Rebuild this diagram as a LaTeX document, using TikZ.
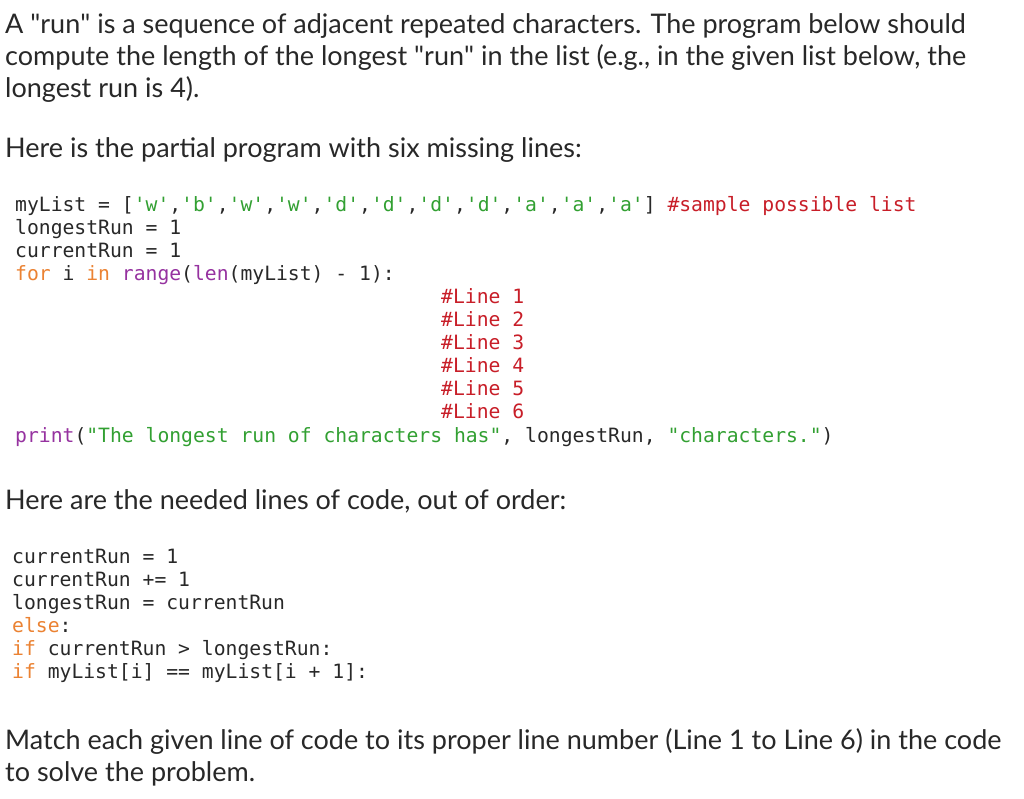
\documentclass[tikz,border=0pt]{standalone}
\usepackage{fontspec}
\setmainfont{Lato}
\newfontfamily\plainlato{Lato}
\newfontfamily\codefont{DejaVu Sans Mono}
\definecolor{txt}{RGB}{40,40,40}
\definecolor{cstr}{RGB}{50,160,50}
\definecolor{ckw}{RGB}{235,130,50}
\definecolor{cfn}{RGB}{150,50,160}
\definecolor{ccm}{RGB}{200,30,40}
\newcommand{\q}{\char"27}
\newcommand{\dq}{{\plainlato\char"22}}
\newcommand{\s}[1]{\textcolor{cstr}{\q#1\q}}
\newcommand{\kw}[1]{\textcolor{ckw}{#1}}
\newcommand{\fn}[1]{\textcolor{cfn}{#1}}
\newcommand{\cm}[1]{\textcolor{ccm}{#1}}
\tikzset{
 body/.style={anchor=base west,inner sep=0,text=txt,font=\fontsize{27}{30}\selectfont},
 code/.style={anchor=base west,inner sep=0,text=txt,font=\codefont\fontsize{19.7}{23}\selectfont}
}
\begin{document}
\begin{tikzpicture}[x=1pt,y=-1pt]
\useasboundingbox[fill=white] (0,0) rectangle (1024,798);
\node[body] (t1) at (5,33) {A \dq run\dq{} is a sequence of adjacent repeated characters. The program below should};
\node[body] (t2) at (5,65) {compute the length of the longest \dq run\dq{} in the list (e.g., in the given list below, the};
\node[body] (t3) at (5,97) {longest run is 4).};
\node[body] (t4) at (5,157) {Here is the partial program with six missing lines:};
\node[code] (c1) at (15,211) {myList = [\s{w},\s{b},\s{w},\s{w},\s{d},\s{d},\s{d},\s{d},\s{a},\s{a},\s{a}] \cm{\#sample possible list}};
\node[code] (c2) at (15,234) {longestRun = 1};
\node[code] (c3) at (15,257) {currentRun = 1};
\node[code] (c4) at (15,280) {\kw{for} i \kw{in} \fn{range}(\fn{len}(myList) - 1):};
\node[code] (l1) at (441,303) {\cm{\#Line 1}};
\node[code] (l2) at (441,326) {\cm{\#Line 2}};
\node[code] (l3) at (441,349) {\cm{\#Line 3}};
\node[code] (l4) at (441,372) {\cm{\#Line 4}};
\node[code] (l5) at (441,395) {\cm{\#Line 5}};
\node[code] (l6) at (441,418) {\cm{\#Line 6}};
\node[code] (pr) at (15,442) {\fn{print}(\textcolor{cstr}{"The longest run of characters has"}, longestRun, \textcolor{cstr}{"characters."})};
\node[body] (t5) at (5,509) {Here are the needed lines of code, out of order:};
\node[code] (o1) at (12,563) {currentRun = 1};
\node[code] (o2) at (12,586) {currentRun += 1};
\node[code] (o3) at (12,609) {longestRun = currentRun};
\node[code] (o4) at (12,632) {\kw{else}:};
\node[code] (o5) at (12,655) {\kw{if} currentRun > longestRun:};
\node[code] (o6) at (12,678) {\kw{if} myList[i] == myList[i + 1]:};
\node[body] (t6) at (5,749) {Match each given line of code to its proper line number (Line 1 to Line 6) in the code};
\node[body] (t7) at (5,781) {to solve the problem.};
\end{tikzpicture}
\end{document}
